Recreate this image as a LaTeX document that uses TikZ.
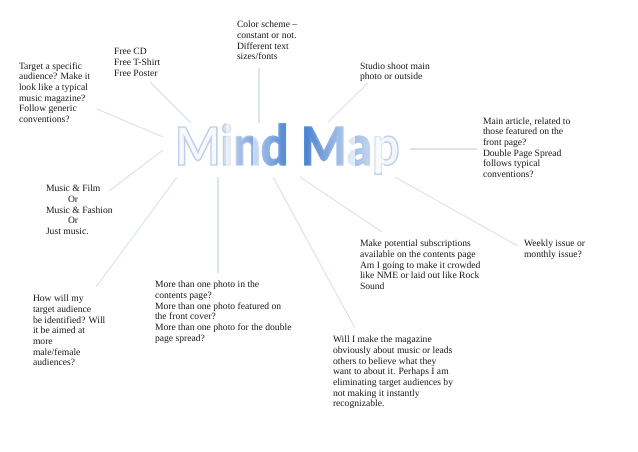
\documentclass[tikz,border=0pt]{standalone}
\usepackage{fontspec}
\usetikzlibrary{fadings}
\setmainfont{Liberation Serif}
\newfontfamily\titlefont[FakeStretch=0.88,WordSpace=1.1]{Carlito}
\definecolor{linkc}{HTML}{DCE4F0}
\definecolor{inkc}{HTML}{1A1A1A}
\definecolor{tA}{HTML}{F6F8FC}
\definecolor{tB}{HTML}{D3DFF1}
\definecolor{tC}{HTML}{7FA3DC}
\definecolor{tD}{HTML}{4A82D2}
\definecolor{tE}{HTML}{4A82D2}
\definecolor{tF}{HTML}{A9C2E8}
\definecolor{tG}{HTML}{F2F6FB}
\newcommand{\outl}[1]{\special{pdf:code #1 RG}}
\tikzset{
  x=0.75pt,y=-0.75pt,
  note/.style={anchor=north west,inner sep=0pt,outer sep=0pt,font=\fontsize{7.2}{8}\selectfont,text=inkc,align=left},
  link/.style={draw=linkc,line width=0.8pt},
  sheen/.style={fill=white,draw=none},
}
\begin{document}
\begin{tikzpicture}
\useasboundingbox (0,0) rectangle (638,451);
\node[note] (target) at (19,62.5) {Target a specific\\audience? Make it\\look like a typical\\music magazine?\\Follow generic\\conventions?};
\node[note] (free) at (114,48.5) {Free CD\\Free T-Shirt\\Free Poster};
\node[note] (color) at (237,21) {Color scheme --\\constant or not.\\Different text\\sizes/fonts};
\node[note] (studio) at (360,62.5) {Studio shoot main\\photo or outside};
\node[note] (main) at (483,117.5) {Main article, related to\\those featured on the\\front page?\\Double Page Spread\\follows typical\\conventions?};
\node[note] (weekly) at (524,240) {Weekly issue or\\monthly issue?};
\node[note] (make) at (360,240) {Make potential subscriptions\\available on the contents page\\Am I going to make it crowded\\like NME or laid out like Rock\\Sound};
\node[note] (will) at (333,336) {Will I make the magazine\\obviously about music or leads\\others to believe what they\\want to about it. Perhaps I am\\eliminating target audiences by\\not making it instantly\\recognizable.};
\node[note] (more) at (155,281) {More than one photo in the\\contents page?\\More than one photo featured on\\the front cover?\\More than one photo for the double\\page spread?};
\node[note] (how) at (33,295) {How will my\\target audience\\be identified? Will\\it be aimed at\\more\\male/female\\audiences?};
\node[note] (music) at (46,185) {Music \& Film\\\hspace*{16.5pt}Or\\Music \& Fashion\\\hspace*{16.5pt}Or\\Just music.};
\node[anchor=base west,inner sep=0pt,font=\titlefont\bfseries\fontsize{44}{44}\selectfont] (title) at (175,165) {\special{pdf:code 2 Tr 1 w}\color{tA}\outl{0.74 0.81 0.92}M\color{tB}\outl{0.72 0.80 0.92}i\color{tC}\outl{0.6 0.72 0.9}n\color{tD}\outl{0.35 0.55 0.84}d \color{tE}\outl{0.35 0.55 0.84}M\color{tF}\outl{0.65 0.75 0.9}a\color{tG}\outl{0.74 0.81 0.92}p\special{pdf:code 0 Tr}};
\fill[sheen,path fading=east,opacity=.6] (226,120) rectangle (253,172);
\fill[sheen,path fading=east,opacity=.6] (253,120) rectangle (288,172);
\fill[sheen,path fading=west,opacity=.7] (305,120) rectangle (355,172);
\fill[sheen,path fading=west,opacity=.6] (355,120) rectangle (384,172);
\coordinate (a1) at (163,137);\coordinate (a2) at (97,109);
\coordinate (b1) at (191,123);\coordinate (b2) at (150,82);
\coordinate (c1) at (259,123);\coordinate (c2) at (259,68);
\coordinate (d1) at (328,122);\coordinate (d2) at (368,83);
\coordinate (e1) at (410,149);\coordinate (e2) at (477,149);
\coordinate (f1) at (395,177);\coordinate (f2) at (518,246);
\coordinate (g1) at (300,177);\coordinate (g2) at (382,232);
\coordinate (h1) at (273,177);\coordinate (h2) at (355,328);
\coordinate (i1) at (218,177);\coordinate (i2) at (218,273);
\coordinate (j1) at (177,177);\coordinate (j2) at (96,287);
\coordinate (k1) at (163,150);\coordinate (k2) at (109,191);
\foreach \p in {a,b,c,d,e,f,g,h,i,j,k}{\draw[link] (\p1) -- (\p2);}
\end{tikzpicture}
\end{document}
